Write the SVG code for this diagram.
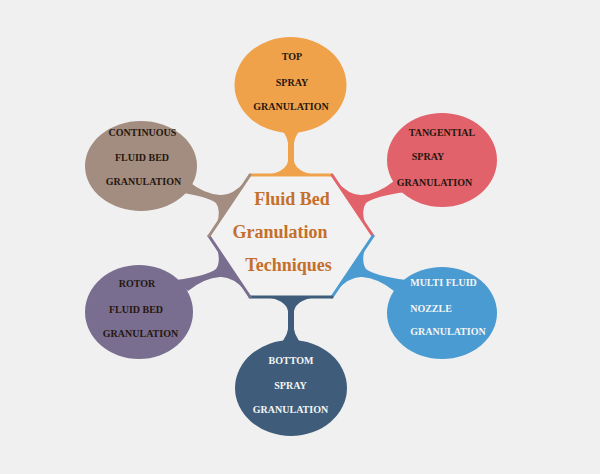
<svg xmlns="http://www.w3.org/2000/svg" width="600" height="474" viewBox="0 0 600 474">
<defs>
<style>
.lbl{font-family:"Liberation Serif","Times New Roman",serif;font-weight:bold;font-size:10px;text-anchor:middle}
.dk{fill:#25170f}
.wh{fill:#f5f5f5}
.ttl{font-family:"Liberation Serif","Times New Roman",serif;font-weight:bold;font-size:18px;fill:#c46f2a;text-anchor:middle}
.edge{stroke-width:3;stroke-linecap:round;fill:none}
</style>
<path id="stem" d="M -25,0 Q -5,-3 -3,-14 L -3,-32 Q -4,-42 -18,-54 L 18,-54 Q 4,-42 3,-32 L 3,-14 Q 5,-3 25,0 Z"/>
<path id="dstem" d="M 45,-55 Q 59,-40 71,-41 Q 87,-42 103,-55 L 115,-44 Q 84,-40 75,-33 Q 70,-26 74,-12 Z"/>
</defs>
<rect width="600" height="474" fill="#f0f0f0"/>
<g id="connectors">
<use href="#stem" fill="#f0a24b" transform="translate(291,175)"/>
<use href="#dstem" fill="#e2626b" transform="translate(291,236)"/>
<use href="#dstem" fill="#4a9bd1" transform="translate(291,236) scale(1,-1)"/>
<use href="#stem" fill="#3f5d7a" transform="translate(291,297) rotate(180)"/>
<use href="#dstem" fill="#7a6e90" transform="translate(291,236) scale(-1,-1)"/>
<use href="#dstem" fill="#a38c80" transform="translate(291,236) scale(-1,1)"/>
</g>
<g id="top-spray">
<ellipse cx="290.5" cy="85" rx="56" ry="48" fill="#f0a24b"/>
<text class="lbl dk" x="292" y="60">TOP</text>
<text class="lbl dk" x="292" y="85.5">SPRAY</text>
<text class="lbl dk" x="291" y="109.5">GRANULATION</text>
</g>
<g id="tangential-spray">
<ellipse cx="442" cy="160" rx="55" ry="47" fill="#e2626b"/>
<text class="lbl dk" x="442" y="136">TANGENTIAL</text>
<text class="lbl dk" x="428" y="160">SPRAY</text>
<text class="lbl dk" x="434.5" y="185.5">GRANULATION</text>
</g>
<g id="multi-fluid">
<ellipse cx="442" cy="313" rx="55" ry="46" fill="#4a9bd1"/>
<text class="lbl wh" x="443.5" y="286">MULTI FLUID</text>
<text class="lbl wh" x="431" y="311.5">NOZZLE</text>
<text class="lbl wh" x="448" y="335">GRANULATION</text>
</g>
<g id="bottom-spray">
<ellipse cx="291" cy="388" rx="56" ry="48" fill="#3f5d7a"/>
<text class="lbl wh" x="291" y="363.5">BOTTOM</text>
<text class="lbl wh" x="290.5" y="388.5">SPRAY</text>
<text class="lbl wh" x="290.5" y="412.5">GRANULATION</text>
</g>
<g id="rotor">
<ellipse cx="139" cy="312" rx="54" ry="47" fill="#7a6e90"/>
<text class="lbl dk" x="137" y="286.5">ROTOR</text>
<text class="lbl dk" x="136" y="312.5">FLUID BED</text>
<text class="lbl dk" x="140.5" y="336.5">GRANULATION</text>
</g>
<g id="continuous">
<ellipse cx="141" cy="166" rx="56" ry="45" fill="#a38c80"/>
<text class="lbl dk" x="142.5" y="135.5">CONTINUOUS</text>
<text class="lbl dk" x="142" y="160.5">FLUID BED</text>
<text class="lbl dk" x="143.5" y="184.5">GRANULATION</text>
</g>
<g id="center">
<polygon points="250,175 332,175 373,236 332,297 250,297 209,236" fill="#f2f2f2"/>
<line class="edge" x1="250" y1="175" x2="332" y2="175" stroke="#f0a24b"/>
<line class="edge" x1="332" y1="175" x2="373" y2="236" stroke="#e2626b"/>
<line class="edge" x1="373" y1="236" x2="332" y2="297" stroke="#4a9bd1"/>
<line class="edge" x1="332" y1="297" x2="250" y2="297" stroke="#3f5d7a"/>
<line class="edge" x1="250" y1="297" x2="209" y2="236" stroke="#7a6e90"/>
<line class="edge" x1="209" y1="236" x2="250" y2="175" stroke="#a38c80"/>
<text class="ttl" x="292" y="205">Fluid Bed</text>
<text class="ttl" x="280" y="238">Granulation</text>
<text class="ttl" x="288.5" y="271">Techniques</text>
</g>
</svg>
